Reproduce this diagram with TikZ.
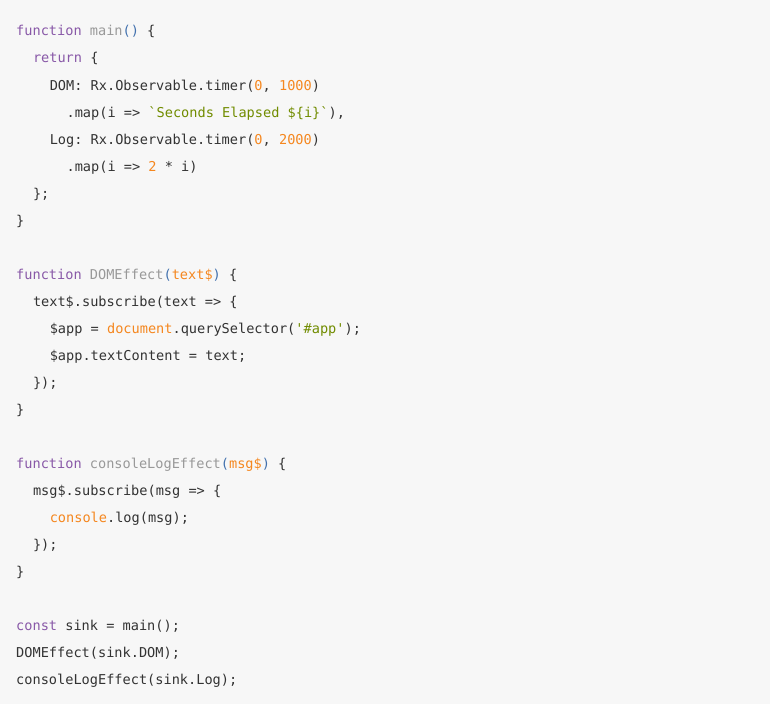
\documentclass[tikz,border=0pt]{standalone}
\usepackage{fontspec}
\setmonofont{DejaVu Sans Mono}
\definecolor{kwc}{HTML}{8959A8}
\definecolor{gyc}{HTML}{999999}
\definecolor{orc}{HTML}{F5871F}
\definecolor{grc}{HTML}{718C00}
\definecolor{blc}{HTML}{4271AE}
\definecolor{txc}{HTML}{333333}
\definecolor{bgc}{HTML}{F7F7F7}
\newcommand\Kw[1]{\textcolor{kwc}{#1}}
\newcommand\Gy[1]{\textcolor{gyc}{#1}}
\newcommand\Or[1]{\textcolor{orc}{#1}}
\newcommand\Gr[1]{\textcolor{grc}{#1}}
\newcommand\Bl[1]{\textcolor{blc}{#1}}
\begin{document}
\begin{tikzpicture}[x=1pt,y=-1pt,
  ln/.style={anchor=base west,inner sep=0pt,font=\ttfamily\fontsize{13.6}{16}\selectfont,text=txc}]
\useasboundingbox (0,0) rectangle (773,709);
\fill[bgc] (0,0) rectangle (770,704);
\def\L#1#2#3#4{\node[ln] (#1) at (16+#2*8.4,{36+(#3-1)*27}) {#4};}
\L{l1}{0}{1}{\Kw{function} \Gy{main}\Bl{()} \{}
\L{l2}{2}{2}{\Kw{return} \{}
\L{l3}{4}{3}{DOM: Rx.Observable.timer(\Or{0}, \Or{1000})}
\L{l4}{6}{4}{.map(i => \Gr{`Seconds Elapsed \$\{i\}`}),}
\L{l5}{4}{5}{Log: Rx.Observable.timer(\Or{0}, \Or{2000})}
\L{l6}{6}{6}{.map(i => \Or{2} * i)}
\L{l7}{2}{7}{\};}
\L{l8}{0}{8}{\}}
\L{l10}{0}{10}{\Kw{function} \Gy{DOMEffect}\Bl{(}\Or{text\$}\Bl{)} \{}
\L{l11}{2}{11}{text\$.subscribe(text => \{}
\L{l12}{4}{12}{\$app = \Or{document}.querySelector(\Gr{'\#app'});}
\L{l13}{4}{13}{\$app.textContent = text;}
\L{l14}{2}{14}{\});}
\L{l15}{0}{15}{\}}
\L{l17}{0}{17}{\Kw{function} \Gy{consoleLogEffect}\Bl{(}\Or{msg\$}\Bl{)} \{}
\L{l18}{2}{18}{msg\$.subscribe(msg => \{}
\L{l19}{4}{19}{\Or{console}.log(msg);}
\L{l20}{2}{20}{\});}
\L{l21}{0}{21}{\}}
\L{l23}{0}{23}{\Kw{const} sink = main();}
\L{l24}{0}{24}{DOMEffect(sink.DOM);}
\L{l25}{0}{25}{consoleLogEffect(sink.Log);}
\end{tikzpicture}
\end{document}
